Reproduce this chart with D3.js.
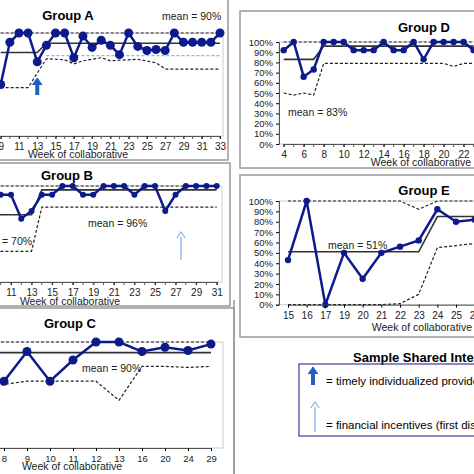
<!DOCTYPE html><html><head><meta charset="utf-8">
<script src="https://cdn.jsdelivr.net/npm/d3@7"></script>
<style>body{margin:0;background:#fff}svg{font-family:"Liberation Sans",Arial,sans-serif}</style></head><body>
<svg id="c" width="474" height="474"></svg>
<script>
// ---- data ----
const weeksA=[9,10,11,12,13,14,15,16,17,18,19,20,21,22,23,24,25,26,27,28,29,30,31,32,33];
const valsA=[50,91,100,100,72,88,100,100,76,97,86,93,88,79,100,87,83,84,83,100,91,91,91,91,100];
const meanA=[[9,81],[13,81],[14,90],[33,90]];
const lowA=[[9,47],[12,47],[14,75],[16,74],[17,70],[18,73],[20,76],[21,73],[24,74.5],[26,71],[27,65],[33,65]];
const refA=[[14,78],[33,78]];
const weeksB=[10,11,12,13,14,15,16,17,18,19,20,21,22,23,24,25,26,27,28,29,30,31];
const valsB=[91,91,66,74,91,91,100,100,91,91,100,100,100,91,100,100,74,91,100,100,100,100];
const meanB=[[9,70],[13,70],[14,96],[31,96]];
const lowB=[[9,32],[13,32],[14,78],[31,78]];
const weeksD=[4,5,6,7,8,9,10,11,12,13,14,15,16,17,18,19,20,21,22,23];
const valsD=[92,100,66,73,100,100,100,92,92,92,100,92,92,100,83,100,100,100,100,92];
const meanD=[[4,83],[7,83],[8,96],[23,96]];
const lowD=[[4,50],[5,48],[6,50],[7,48],[8,79],[20,79],[21,76],[22,79],[23,79]];
const catsE=["15","16","17","19","20","21","22","23","24","25","26"];
const valsE=[43,100,0,50,25,50,56,62,92,80,82];
const meanE=[51,51,51,51,51,51,51,51,85,85,85];
const lowE=[0,0,0,0,0,0,1,10,55,57,59];
const upE=[100,100,100,100,100,100,100,92,100,100,100];
const catsC=["7","8","9","10","11","12","13","16","20","24","29"];
const valsC=[61,63,91,63,83,100,100,91,95,92,98];
const meanC=[90,90,90,90,90,90,90,90,90,90,90];
const lowC=[58,60,63,63,63,63,45,77,77,76,77];
const upC=[100,100,100,100,100,100,100,100,100,100,100];
const pctTicks=[0,10,20,30,40,50,60,70,80,90,100];

const svg=d3.select("#c");
const NAVY="#0d1a8c";
const fr=[[-5,-5,233,165],[240,11,240,157],[-5,163,235,143],[240,175,240,162],[-5,308,239,175]];
fr.forEach(f=>svg.append("rect").attr("x",f[0]).attr("y",f[1]).attr("width",f[2]).attr("height",f[3]).attr("fill","none").attr("stroke","#999").attr("stroke-width",1.5));
svg.append("line").attr("x1",234).attr("x2",234).attr("y1",300).attr("y2",474).attr("stroke","#999").attr("stroke-width",1.5);

function panel(o){
  const g=svg.append("g");
  const x=o.x, y=d3.scaleLinear().domain([0,100]).range([o.y0,o.y1]);
  g.append("rect").attr("x",o.px0).attr("y",o.y1).attr("width",o.px1-o.px0).attr("height",o.y0-o.y1).attr("fill","none").attr("stroke","#ccc");
  const ln=d3.line().x(d=>x(d[0])).y(d=>y(d[1]));
  const up=o.up||[[o.xs[0],100],[o.xs[o.xs.length-1],100]];
  g.append("path").attr("d",ln(up)).attr("fill","none").attr("stroke","#222").attr("stroke-dasharray","3,2").attr("stroke-width",1.2);
  g.append("path").attr("d",ln(o.low)).attr("fill","none").attr("stroke","#222").attr("stroke-dasharray","3,2").attr("stroke-width",1.2);
  if(o.ref)g.append("path").attr("d",ln(o.ref)).attr("fill","none").attr("stroke","#8ab4e0").attr("stroke-dasharray","3,2").attr("stroke-width",1.2);
  g.append("path").attr("d",ln(o.mean)).attr("fill","none").attr("stroke","#333").attr("stroke-width",1.6);
  const pts=o.xs.map((d,i)=>[d,o.vals[i]]);
  g.append("path").attr("d",ln(pts)).attr("fill","none").attr("stroke",NAVY).attr("stroke-width",2.5);
  g.selectAll("circle.p").data(pts).join("circle").attr("cx",d=>x(d[0])).attr("cy",d=>y(d[1])).attr("r",o.r).attr("fill",NAVY);
  const ax=g.append("g").attr("transform",`translate(0,${o.y0})`).call(d3.axisBottom(x).tickValues(o.tickVals).tickSize(3).tickSizeOuter(0).tickPadding(2));
  ax.select(".domain").attr("stroke","#555");
  ax.selectAll("text").attr("font-size",o.tf||10).attr("fill","#222").attr("dy","0.9em");
  if(o.minor){g.append("g").attr("transform",`translate(0,${o.y0})`).selectAll("line").data(o.minor).join("line").attr("x1",d=>x(d)).attr("x2",d=>x(d)).attr("y1",0).attr("y2",3).attr("stroke","#555");}
  if(o.yaxis){const ya=g.append("g").attr("transform",`translate(${o.px0},0)`).call(d3.axisLeft(y).tickValues(pctTicks).tickFormat(d=>d+"%").tickSize(3));
    ya.select(".domain").attr("stroke","#555");ya.selectAll("text").attr("font-size",9.5).attr("fill","#222");}
  g.append("text").attr("x",o.tx).attr("y",o.ty).attr("text-anchor","middle").attr("font-weight","bold").attr("font-size",13).text(o.title);
  g.append("text").attr("x",o.lx).attr("y",o.ly).attr("text-anchor",o.la||"middle").attr("font-size",10.5).attr("fill","#222").text("Week of collaborative");
  (o.texts||[]).forEach(t=>g.append("text").attr("x",t[0]).attr("y",t[1]).attr("font-size",10.5).attr("fill","#222").text(t[2]));
  return {x,y};
}
const odd=(a,b)=>d3.range(a,b+1,2);
const pA=panel({x:d3.scaleLinear().domain([9,33]).range([0.7,220]),px0:-2,px1:223,y0:136,y1:33,xs:weeksA,vals:valsA,mean:meanA,low:lowA,ref:refA,r:4.5,
 tickVals:odd(9,33),minor:d3.range(9,34),title:"Group A",tx:68,ty:20,lx:78,ly:158,texts:[[162,20,"mean = 90%"]]});
panel({x:d3.scaleLinear().domain([4,23]).range([283.7,473.6]),px0:279,px1:480,y0:144,y1:42,xs:weeksD,vals:valsD,mean:meanD,low:lowD,r:3.2,yaxis:true,
 tickVals:d3.range(4,23,2),minor:d3.range(4,24),title:"Group D",tx:424,ty:32,lx:471,ly:166,la:"end",texts:[[288,116,"mean = 83%"]]});
const pB=panel({x:d3.scaleLinear().domain([9,31]).range([-9.6,216.7]),px0:-2,px1:222,y0:282,y1:186,xs:weeksB,vals:valsB,mean:meanB,low:lowB,r:3,
 tickVals:odd(11,31),minor:d3.range(10,32),title:"Group B",tx:67,ty:180,lx:70,ly:305,texts:[[88,227,"mean = 96%"],[2,245,"= 70%"]]});
panel({x:d3.scalePoint().domain(catsE).range([288,474.7]),px0:279,px1:480,y0:304.7,y1:201,xs:catsE,vals:valsE,
 mean:catsE.map((c,i)=>[c,meanE[i]]),low:catsE.map((c,i)=>[c,lowE[i]]),up:catsE.map((c,i)=>[c,upE[i]]),r:3.2,yaxis:true,
 tickVals:catsE,title:"Group E",tx:424,ty:195,lx:472,ly:331,la:"end",texts:[[328,249,"mean = 51%"]]});
panel({x:d3.scalePoint().domain(catsC).range([-19,211]),px0:-2,px1:223,y0:448,y1:342,xs:catsC,vals:valsC,tf:9.5,
 mean:catsC.map((c,i)=>[c,meanC[i]]),low:catsC.map((c,i)=>[c,lowC[i]]),up:catsC.map((c,i)=>[c,upC[i]]),r:4.5,
 tickVals:catsC.slice(1),title:"Group C",tx:70,ty:328,lx:72,ly:470,texts:[[82,372,"mean = 90%"]]});

function arrow(x,y1,y2,w,col,head){
  svg.append("line").attr("x1",x).attr("x2",x).attr("y1",y2).attr("y2",y1+head*0.8).attr("stroke",col).attr("stroke-width",w);
  svg.append("path").attr("d",`M${x-head*0.7},${y1+head} L${x},${y1} L${x+head*0.7},${y1+head}`).attr("fill",w>2?col:"none").attr("stroke",col).attr("stroke-width",w>2?1:1.2);
}
arrow(pA.x(13),78,95,4,"#1f5fbf",7);
arrow(181,232,260,1.3,"#7fb2e5",6);
svg.append("text").attr("x",353).attr("y",362).attr("font-weight","bold").attr("font-size",13).text("Sample Shared Interventions");
svg.append("rect").attr("x",299).attr("y",364).attr("width",200).attr("height",72).attr("fill","none").attr("stroke","#3a3a9a").attr("stroke-width",1.2);
arrow(313,367,385,4,"#1f5fbf",7);
arrow(315,402,432,1.3,"#7fb2e5",6);
svg.append("text").attr("x",326).attr("y",385).attr("font-size",11.5).text("= timely individualized provider feedback");
svg.append("text").attr("x",326).attr("y",429).attr("font-size",11.5).text("= financial incentives (first discussed)");
</script></body></html>
